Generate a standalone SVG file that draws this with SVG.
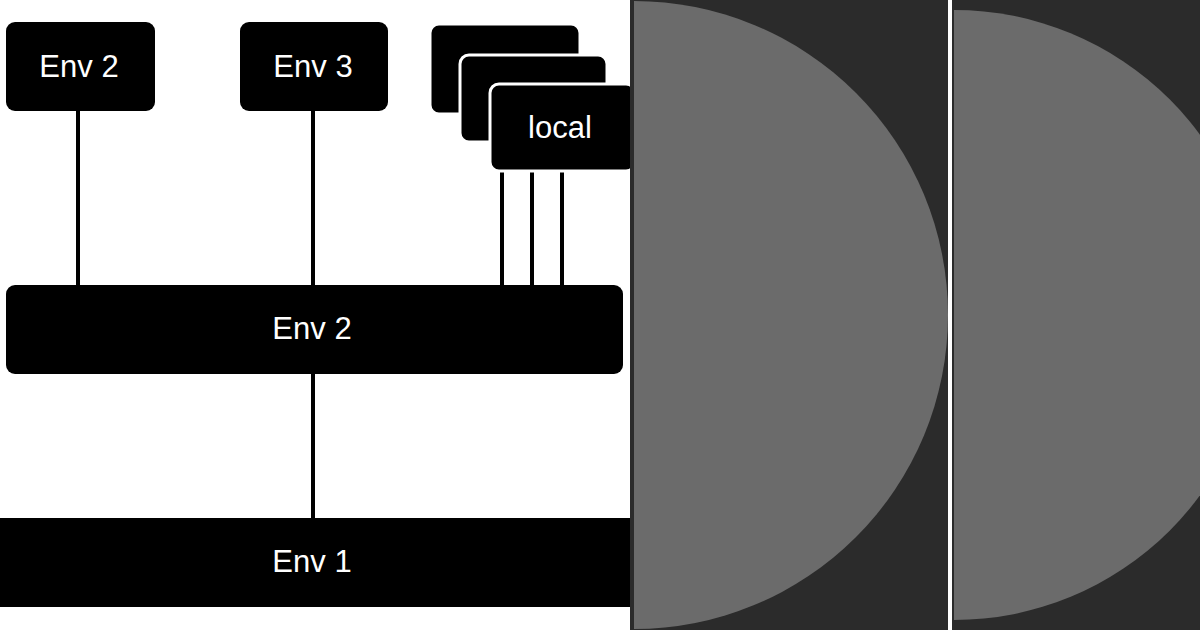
<svg xmlns="http://www.w3.org/2000/svg" width="1200" height="630" viewBox="0 0 1200 630">
<style>
.n{fill:#000}
.s{fill:#000;stroke:#fff;stroke-width:3}
.t{fill:#fff;font-family:"Liberation Sans",Arial,sans-serif;font-size:31px;text-anchor:middle;dominant-baseline:central}
.c{stroke:#000;stroke-width:4}
</style>
<rect width="1200" height="630" fill="#fff"/>
<g id="connectors">
<line class="c" x1="78" y1="111" x2="78" y2="285"/>
<line class="c" x1="313" y1="111" x2="313" y2="285"/>
<line class="c" x1="502" y1="170" x2="502" y2="285"/>
<line class="c" x1="532" y1="170" x2="532" y2="285"/>
<line class="c" x1="562" y1="170" x2="562" y2="285"/>
<line class="c" x1="313" y1="374" x2="313" y2="518"/>
</g>
<g id="env2top"><rect class="n" x="6" y="22" width="149" height="89" rx="9"/><text class="t" x="79" y="66">Env 2</text></g>
<g id="env3"><rect class="n" x="240" y="22" width="148" height="89" rx="9"/><text class="t" x="313" y="66">Env 3</text></g>
<g id="stack1"><rect class="s" x="430" y="24" width="150" height="90" rx="9"/></g>
<g id="stack2"><rect class="s" x="460" y="55" width="147" height="87" rx="9"/></g>
<g id="local"><rect class="s" x="490" y="84" width="145" height="87" rx="9"/><text class="t" x="560" y="127">local</text></g>
<g id="env2"><rect class="n" x="6" y="285" width="617" height="89" rx="9"/><text class="t" x="312" y="328">Env 2</text></g>
<g id="env1"><rect class="n" x="0" y="518" width="630" height="89"/><text class="t" x="312" y="561">Env 1</text></g>
<rect x="630" width="318" height="630" fill="#2b2b2b"/>
<rect x="952" width="248" height="630" fill="#2b2b2b"/>
<path d="M634 1 A314 314 0 0 1 634 629 Z" fill="#6b6b6b"/>
<path d="M954 10 A305 305 0 0 1 954 620 Z" fill="#6b6b6b"/>
</svg>
